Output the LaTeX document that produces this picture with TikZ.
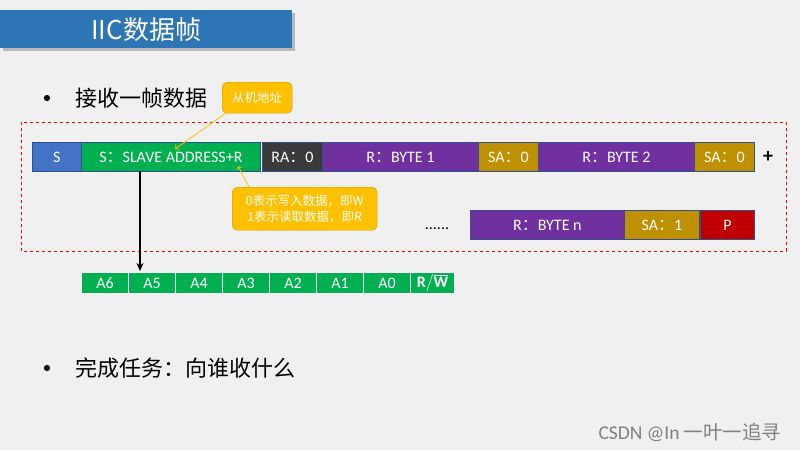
\documentclass[tikz,border=0pt]{standalone}
\usepackage{fontspec}
\setmainfont{Carlito}
\newfontfamily\cjk{Noto Sans CJK SC}
\usetikzlibrary{shadows, arrows.meta}
\definecolor{bgc}{HTML}{F0F0F0}
\definecolor{tblue}{HTML}{2E75B6}
\definecolor{sblue}{HTML}{4472C4}
\definecolor{fgreen}{HTML}{00B050}
\definecolor{fdark}{HTML}{3A3A3A}
\definecolor{fpurple}{HTML}{7030A0}
\definecolor{fgold}{HTML}{BF9000}
\definecolor{fred}{HTML}{C00000}
\definecolor{fyel}{HTML}{FFC000}
\definecolor{eblue}{HTML}{2F528F}
\tikzstyle{f}=[draw=eblue, line width=0.8pt, anchor=north west, inner sep=0pt,
    minimum height=29pt, text=white, font=\fontsize{16}{18}\selectfont]
\tikzstyle{b}=[fill=fgreen, draw=white, line width=1pt, anchor=north west,
    inner sep=0pt, minimum width=47pt, minimum height=21pt, text=white,
    font=\fontsize{16}{18}\selectfont]
\tikzstyle{note}=[fill=fyel, draw=fyel!80!black, rounded corners=5pt,
    anchor=north west, inner sep=0pt, text=white, align=center,
    font=\cjk\fontsize{12.5}{16}\selectfont]
\tikzstyle{bul}=[anchor=west, font=\cjk\fontsize{22}{24}\selectfont]
\begin{document}
\begin{tikzpicture}[x=1pt,y=-1pt]
    \fill[bgc] (0,0) rectangle (800,450);
    \path (0,10) node (title) [anchor=north west, fill=tblue, minimum width=292pt,
        minimum height=38pt, inner sep=0pt, text=white, drop shadow,
        font=\cjk\fontsize{26}{28}\selectfont] {IIC数据帧};
    \path (47,98) node (d1) [circle, fill=black, inner sep=2.2pt] {};
    \path (72,98) node (t1) [bul] {接收一帧数据};
    \path (47,368) node (d2) [circle, fill=black, inner sep=2.2pt] {};
    \path (72,368) node (t2) [bul] {完成任务：向谁收什么};
    % frame
    \draw[red, dashed, line width=0.8pt] (21,122) rectangle (786,251);
    \path (32,142) node (s) [f, fill=sblue, minimum width=49pt] {S};
    \path (81,142) node (sla) [f, fill=fgreen, minimum width=179pt] {S{\cjk ：}SLAVE ADDRESS+R};
    \path (262,142) node (ra) [f, fill=fdark, minimum width=60pt] {RA{\cjk ：}0};
    \path (322,142) node (by1) [f, fill=fpurple, minimum width=156pt] {R{\cjk ：}BYTE 1};
    \path (478,142) node (sa1) [f, fill=fgold, minimum width=60pt] {SA{\cjk ：}0};
    \path (538,142) node (by2) [f, fill=fpurple, minimum width=156pt] {R{\cjk ：}BYTE 2};
    \path (694,142) node (sa2) [f, fill=fgold, minimum width=60pt] {SA{\cjk ：}0};
    \path (768,157) node (plus) [font=\fontsize{20}{22}\selectfont\bfseries] {+};
    \path (437,229) node (dots) [font=\fontsize{16}{18}\selectfont] {......};
    \path (470,210) node (byn) [f, fill=fpurple, minimum width=154pt] {R{\cjk ：}BYTE n};
    \path (624,210) node (san) [f, fill=fgold, minimum width=75pt] {SA{\cjk ：}1};
    \path (700,210) node (p) [f, fill=fred, minimum width=54pt] {P};
    % address bits
    \foreach \t [count=\i from 0] in {A6,A5,A4,A3,A2,A1,A0}
        \path (81+47*\i,272) node (a\i) [b] {\t};
    \path (410,272) node (rw) [b, minimum width=44pt] {$\mathbf{R/\overline{W}}$};
    \coordinate (top) at (140,171);
    \coordinate (bot) at (140,271);
    \draw[-{Stealth[length=8pt,width=7pt]}, line width=1.5pt] (top) -- (bot);
    % notes
    \path (222,82) node (n1) [note, minimum width=70pt, minimum height=31pt] {从机地址};
    \path (232,187) node (n2) [note, minimum width=145pt, minimum height=43pt]
        {0表示写入数据，即W\\1表示读取数据，即R};
    \coordinate (m1) at (175,149);
    \coordinate (m2) at (238,166);
    \draw[->, fyel, line width=0.8pt] (n1.south west) ++(5,-1) -- (m1);
    \draw[->, fyel, line width=0.8pt] (n2.north west) ++(17,0) -- (m2);
    \path (690,432) node (wm) [text=gray, font=\fontsize{19.5}{21}\selectfont]
        {CSDN @In {\cjk 一叶一追寻}};
\end{tikzpicture}
\end{document}
